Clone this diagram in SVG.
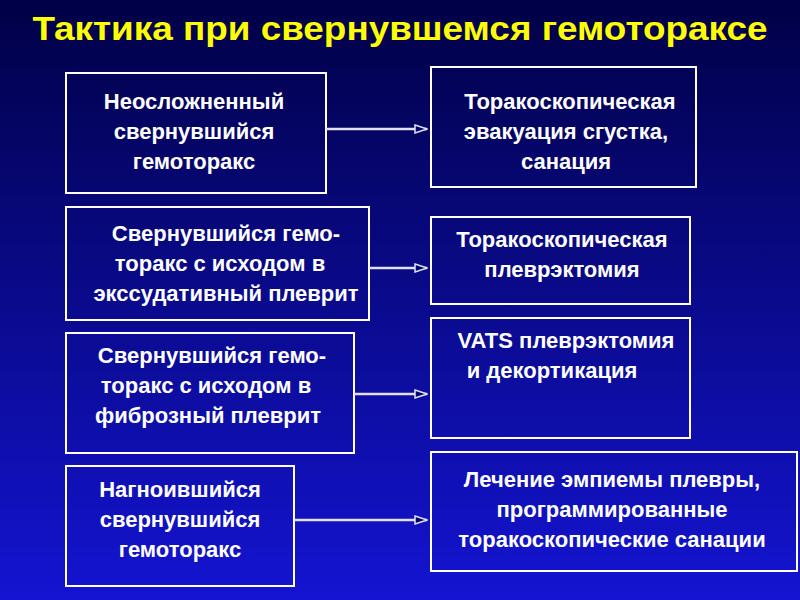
<svg xmlns="http://www.w3.org/2000/svg" width="800" height="600" viewBox="0 0 800 600">
<defs>
<linearGradient id="bg" x1="0" y1="0" x2="0" y2="1">
<stop offset="0" stop-color="#000046"/>
<stop offset="1" stop-color="#1414d2"/>
</linearGradient>
<marker id="ah" markerWidth="14" markerHeight="10" refX="13" refY="5" orient="auto" markerUnits="userSpaceOnUse">
<path d="M1,1 L13,5 L1,9 Z" fill="#000070" stroke="#e0e0f0" stroke-width="1.5"/>
</marker>
<style>
.b{fill:none;stroke:#fff;stroke-width:2}
.t{font-family:"Liberation Sans",Arial,sans-serif;font-weight:bold;font-size:22px;fill:#fff;text-anchor:middle}
.c{stroke:#e0e0f0;stroke-width:2.5;fill:none;marker-end:url(#ah)}
</style>
</defs>
<rect width="800" height="600" fill="url(#bg)"/>
<text x="400" y="40" font-family="Liberation Sans,Arial,sans-serif" font-weight="bold" font-size="34" fill="#ffff00" text-anchor="middle" textLength="735" lengthAdjust="spacingAndGlyphs">Тактика при свернувшемся гемотораксе</text>
<g id="l1"><rect class="b" x="66" y="73" width="260" height="120"/><text class="t" x="194" y="109">Неосложненный</text><text class="t" x="194" y="139">свернувшийся</text><text class="t" x="194" y="169">гемоторакс</text></g>
<g id="l2"><rect class="b" x="66" y="207" width="303" height="113"/><text class="t" x="226" y="241">Свернувшийся гемо-</text><text class="t" x="220" y="271">торакс с исходом в</text><text class="t" x="226" y="301">экссудативный плеврит</text></g>
<g id="l3"><rect class="b" x="66" y="333" width="288" height="120"/><text class="t" x="212" y="363">Свернувшийся гемо-</text><text class="t" x="206" y="393">торакс с исходом в</text><text class="t" x="208" y="423">фиброзный плеврит</text></g>
<g id="l4"><rect class="b" x="66" y="466" width="228" height="120"/><text class="t" x="180" y="497">Нагноившийся</text><text class="t" x="180" y="527">свернувшийся</text><text class="t" x="180" y="557">гемоторакс</text></g>
<g id="r1"><rect class="b" x="431" y="67" width="265" height="120"/><text class="t" x="570" y="109">Торакоскопическая</text><text class="t" x="566" y="139">эвакуация сгустка,</text><text class="t" x="566" y="169">санация</text></g>
<g id="r2"><rect class="b" x="431" y="217" width="259" height="87"/><text class="t" x="562" y="247">Торакоскопическая</text><text class="t" x="562" y="277">плеврэктомия</text></g>
<g id="r3"><rect class="b" x="431" y="318" width="259" height="120"/><text class="t" x="566" y="348">VATS плеврэктомия</text><text class="t" x="552" y="378">и декортикация</text></g>
<g id="r4"><rect class="b" x="431" y="452" width="366" height="119"/><text class="t" x="612" y="487">Лечение эмпиемы плевры,</text><text class="t" x="612" y="517">программированные</text><text class="t" x="612" y="547">торакоскопические санации</text></g>
<g id="connectors">
<line class="c" x1="326" y1="129" x2="427" y2="129"/>
<line class="c" x1="369" y1="268" x2="427" y2="268"/>
<line class="c" x1="354" y1="394" x2="427" y2="394"/>
<line class="c" x1="294" y1="520" x2="427" y2="520"/>
</g>
</svg>
